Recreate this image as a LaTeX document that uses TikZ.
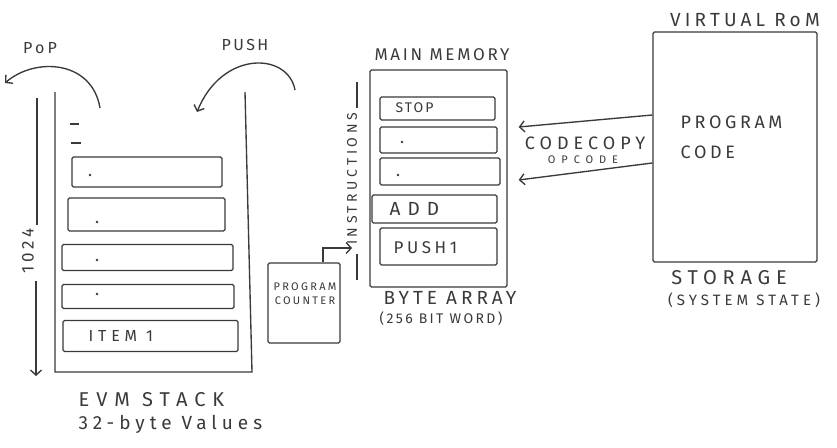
\documentclass[tikz,border=0pt]{standalone}
\usepackage{fontspec}
\setmainfont{Fira Sans}
\newfontfamily\hand{Fira Sans}
\usetikzlibrary{arrows.meta}
\definecolor{ink}{HTML}{3A3A3A}
\begin{document}
\begin{tikzpicture}[x=1pt,y=-1pt,line width=1.35pt,color=ink,
  box/.style={draw,rounded corners=1.5pt,inner sep=0pt},
  dotm/.style={circle,fill,inner sep=0pt,minimum size=2.8pt},
  hw/.style 2 args={font=\hand\fontsize{#1}{#1}\selectfont\addfontfeature{LetterSpace=#2},inner sep=0pt},
  arr/.style={-{Straight Barb[length=5pt,width=11pt]}}]
\useasboundingbox (0,0) rectangle (837,447);
\fill[white] (0,0) rectangle (837,447);

% ---------- EVM stack ----------
\coordinate (stl) at (55,92);
\coordinate (sbl) at (55,372);
\coordinate (sbr) at (252,372);
\coordinate (str) at (245,92);
\draw (stl) -- (sbl) -- (sbr) -- (str);

\node[box,minimum width=150,minimum height=30] (s1) at (147,172) {};
\node[box,minimum width=157,minimum height=33] (s2) at (146.5,214.5) {};
\node[box,minimum width=171,minimum height=26] (s3) at (147.5,257.5) {};
\node[box,minimum width=172,minimum height=24] (s4) at (148,296.5) {};
\node[box,minimum width=175,minimum height=31] (s5) at (150.5,336) {};
\node[dotm] (d1) at (90,175) {};
\node[dotm] (d2) at (97,222) {};
\node[dotm] (d3) at (97,260) {};
\node[dotm] (d4) at (97,294) {};
\node[hw={16}{30},anchor=west] (s5t) at (88,336) {ITEM 1};

\coordinate (t1a) at (70,124); \coordinate (t1b) at (79,124);
\coordinate (t2a) at (71,143); \coordinate (t2b) at (81,143);
\draw (t1a) -- (t1b);
\draw (t2a) -- (t2b);

% depth arrow
\coordinate (da) at (37,98);
\coordinate (db) at (37,225);
\coordinate (dc) at (36,281);
\coordinate (dd) at (36,376);
\node[hw={17}{23},rotate=90] (depth) at (28,251) {1024};
\draw (da) -- (db);
\draw[arr] (dc) -- (dd);

% pop / push
\node[hw={16}{20}] (pop) at (40,48) {PoP};
\node[hw={16}{15}] (push) at (245,45) {PUSH};
\coordinate (pops) at (100,108);
\coordinate (pope) at (5,83);
\draw[arr] (pops) .. controls (92,60) and (35,57) .. (pope);
\coordinate (pushs) at (295,90);
\coordinate (pushe) at (197,112);
\draw[arr] (pushs) .. controls (288,52) and (222,50) .. (pushe);

\node[hw={20}{35},anchor=west] (evm) at (78,400) {EVM STACK};
\node[hw={19}{26},anchor=west] (vals) at (78,424) {32-byte Values};

% ---------- program counter ----------
\node[box,minimum width=72,minimum height=80] (pc) at (304,303) {};
\node[hw={11}{21},align=center,font=\hand\fontsize{11}{14}\selectfont\addfontfeature{LetterSpace=21}] (pct) at (305,294) {PROGRAM\\COUNTER};
\coordinate (pcend) at (352,248);
\draw[arr] ([xshift=19pt]pc.north) |- (pcend);

% instructions
\node[hw={14}{26},rotate=90] (instr) at (352,179) {INSTRUCTIONS};
\coordinate (ia) at (357,82);
\coordinate (ib) at (357,108);
\coordinate (ic) at (357,254);
\coordinate (id) at (357,280);
\draw (ia) -- (ib);
\draw (ic) -- (id);

% ---------- main memory ----------
\node[hw={17}{16}] (mmt) at (442,55) {MAIN MEMORY};
\node[box,minimum width=137,minimum height=217] (mem) at (438.5,178.5) {};
\node[box,minimum width=115,minimum height=23] (m1) at (437.5,108.5) {};
\node[box,minimum width=117,minimum height=26] (m2) at (438.5,140) {};
\node[box,minimum width=120,minimum height=27] (m3) at (440,171.5) {};
\node[box,minimum width=125,minimum height=28] (m4) at (434.5,209) {};
\node[box,minimum width=117,minimum height=37] (m5) at (438.5,246.5) {};
\node[hw={14}{14},anchor=west] (m1t) at (395,108) {STOP};
\node[dotm] (md2) at (402,142) {};
\node[dotm] (md3) at (398,175) {};
\node[hw={19}{37},anchor=west] (m4t) at (389,209) {ADD};
\node[hw={17}{21},anchor=west] (m5t) at (393,248) {PUSH1};
\node[hw={19}{21}] (ba) at (450,298) {BYTE ARRAY};
\node[hw={14}{17}] (bw) at (441,319) {(256 BIT WORD)};

% ---------- virtual ROM ----------
\node[hw={19}{22}] (romt) at (745,20) {VIRTUAL RoM};
\node[box,minimum width=164,minimum height=230] (rom) at (735,147) {};
\node[hw={18}{20},anchor=west,align=left,font=\hand\fontsize{18}{30}\selectfont\addfontfeature{LetterSpace=20}] (pcode) at (680,137) {PROGRAM\\CODE};
\node[hw={20}{29}] (stor) at (729,278) {STORAGE};
\node[hw={15}{27}] (sys) at (744,300) {(SYSTEM STATE)};

\draw[arr] ([yshift=32pt]rom.west) -- ([xshift=11pt,yshift=51.5pt]mem.east);
\draw[arr] ([yshift=-16pt]rom.west) -- ([xshift=11pt,yshift=-1.5pt]mem.east);
\node[hw={18}{28}] (cc) at (585,143) {CODECOPY};
\node[hw={11}{54}] (op) at (583,160) {OPCODE};
\end{tikzpicture}
\end{document}
